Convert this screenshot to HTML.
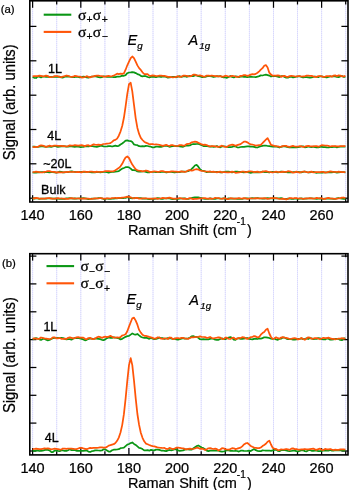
<!DOCTYPE html>
<html><head><meta charset="utf-8"><title>Raman spectra</title>
<style>
html,body{margin:0;padding:0;background:#fff;}
svg{display:block;}
text{font-family:"Liberation Sans",Arial,sans-serif;fill:#000;stroke:#000;stroke-width:0.22px;}
.a{font-size:14.5px;}
.s{font-size:10px;font-family:"Liberation Sans",Arial,sans-serif;}
.l11{font-size:11.4px;}
.l12{font-size:12.5px;stroke-width:0.32px;}
.i{font-size:14.5px;font-style:italic;}
.si{font-size:9.8px;font-style:italic;}
.sg{font-size:15.4px;font-family:"Liberation Serif","DejaVu Serif",serif;stroke-width:0.3px;}
.ss{font-size:10.4px;font-family:"Liberation Sans",Arial,sans-serif;stroke-width:0.2px;}
.g0{stroke:#e9e9ff;stroke-width:1;}
.g{stroke:#d6d6fc;stroke-width:0.9;stroke-dasharray:1 1;}
.t{stroke:#000;stroke-width:1.25;}
</style></head>
<body>
<svg width="349" height="490" viewBox="0 0 349 490">
<rect width="349" height="490" fill="#fff"/>
<line x1="32.6" y1="0.8" x2="32.6" y2="202.1" class="g0"/>
<line x1="32.6" y1="1.0" x2="32.6" y2="202.1" class="g"/>
<line x1="56.7" y1="0.8" x2="56.7" y2="202.1" class="g0"/>
<line x1="56.7" y1="1.0" x2="56.7" y2="202.1" class="g"/>
<line x1="80.8" y1="0.8" x2="80.8" y2="202.1" class="g0"/>
<line x1="80.8" y1="1.0" x2="80.8" y2="202.1" class="g"/>
<line x1="104.9" y1="0.8" x2="104.9" y2="202.1" class="g0"/>
<line x1="104.9" y1="1.0" x2="104.9" y2="202.1" class="g"/>
<line x1="128.9" y1="0.8" x2="128.9" y2="202.1" class="g0"/>
<line x1="128.9" y1="1.0" x2="128.9" y2="202.1" class="g"/>
<line x1="153.0" y1="0.8" x2="153.0" y2="202.1" class="g0"/>
<line x1="153.0" y1="1.0" x2="153.0" y2="202.1" class="g"/>
<line x1="177.1" y1="0.8" x2="177.1" y2="202.1" class="g0"/>
<line x1="177.1" y1="1.0" x2="177.1" y2="202.1" class="g"/>
<line x1="201.2" y1="0.8" x2="201.2" y2="202.1" class="g0"/>
<line x1="201.2" y1="1.0" x2="201.2" y2="202.1" class="g"/>
<line x1="225.3" y1="0.8" x2="225.3" y2="202.1" class="g0"/>
<line x1="225.3" y1="1.0" x2="225.3" y2="202.1" class="g"/>
<line x1="249.4" y1="0.8" x2="249.4" y2="202.1" class="g0"/>
<line x1="249.4" y1="1.0" x2="249.4" y2="202.1" class="g"/>
<line x1="273.5" y1="0.8" x2="273.5" y2="202.1" class="g0"/>
<line x1="273.5" y1="1.0" x2="273.5" y2="202.1" class="g"/>
<line x1="297.5" y1="0.8" x2="297.5" y2="202.1" class="g0"/>
<line x1="297.5" y1="1.0" x2="297.5" y2="202.1" class="g"/>
<line x1="321.6" y1="0.8" x2="321.6" y2="202.1" class="g0"/>
<line x1="321.6" y1="1.0" x2="321.6" y2="202.1" class="g"/>
<line x1="345.7" y1="0.8" x2="345.7" y2="202.1" class="g0"/>
<line x1="345.7" y1="1.0" x2="345.7" y2="202.1" class="g"/>
<line x1="32.6" y1="0.8" x2="32.6" y2="7.8" class="t"/>
<line x1="32.6" y1="202.1" x2="32.6" y2="195.2" class="t"/>
<line x1="56.7" y1="0.8" x2="56.7" y2="4.5" class="t"/>
<line x1="56.7" y1="202.1" x2="56.7" y2="198.5" class="t"/>
<line x1="80.8" y1="0.8" x2="80.8" y2="7.8" class="t"/>
<line x1="80.8" y1="202.1" x2="80.8" y2="195.2" class="t"/>
<line x1="104.9" y1="0.8" x2="104.9" y2="4.5" class="t"/>
<line x1="104.9" y1="202.1" x2="104.9" y2="198.5" class="t"/>
<line x1="128.9" y1="0.8" x2="128.9" y2="7.8" class="t"/>
<line x1="128.9" y1="202.1" x2="128.9" y2="195.2" class="t"/>
<line x1="153.0" y1="0.8" x2="153.0" y2="4.5" class="t"/>
<line x1="153.0" y1="202.1" x2="153.0" y2="198.5" class="t"/>
<line x1="177.1" y1="0.8" x2="177.1" y2="7.8" class="t"/>
<line x1="177.1" y1="202.1" x2="177.1" y2="195.2" class="t"/>
<line x1="201.2" y1="0.8" x2="201.2" y2="4.5" class="t"/>
<line x1="201.2" y1="202.1" x2="201.2" y2="198.5" class="t"/>
<line x1="225.3" y1="0.8" x2="225.3" y2="7.8" class="t"/>
<line x1="225.3" y1="202.1" x2="225.3" y2="195.2" class="t"/>
<line x1="249.4" y1="0.8" x2="249.4" y2="4.5" class="t"/>
<line x1="249.4" y1="202.1" x2="249.4" y2="198.5" class="t"/>
<line x1="273.5" y1="0.8" x2="273.5" y2="7.8" class="t"/>
<line x1="273.5" y1="202.1" x2="273.5" y2="195.2" class="t"/>
<line x1="297.5" y1="0.8" x2="297.5" y2="4.5" class="t"/>
<line x1="297.5" y1="202.1" x2="297.5" y2="198.5" class="t"/>
<line x1="321.6" y1="0.8" x2="321.6" y2="7.8" class="t"/>
<line x1="321.6" y1="202.1" x2="321.6" y2="195.2" class="t"/>
<line x1="345.7" y1="0.8" x2="345.7" y2="4.5" class="t"/>
<line x1="345.7" y1="202.1" x2="345.7" y2="198.5" class="t"/>
<line x1="29.8" y1="26.4" x2="36.4" y2="26.4" class="t"/>
<line x1="348.0" y1="26.4" x2="341.4" y2="26.4" class="t"/>
<line x1="29.8" y1="60.8" x2="36.4" y2="60.8" class="t"/>
<line x1="348.0" y1="60.8" x2="341.4" y2="60.8" class="t"/>
<line x1="29.8" y1="95.2" x2="36.4" y2="95.2" class="t"/>
<line x1="348.0" y1="95.2" x2="341.4" y2="95.2" class="t"/>
<line x1="29.8" y1="129.5" x2="36.4" y2="129.5" class="t"/>
<line x1="348.0" y1="129.5" x2="341.4" y2="129.5" class="t"/>
<line x1="29.8" y1="163.8" x2="36.4" y2="163.8" class="t"/>
<line x1="348.0" y1="163.8" x2="341.4" y2="163.8" class="t"/>
<line x1="29.8" y1="198.2" x2="36.4" y2="198.2" class="t"/>
<line x1="348.0" y1="198.2" x2="341.4" y2="198.2" class="t"/>
<polyline points="32.6,198.5 34.3,198.6 36.0,198.3 37.7,198.5 39.3,198.9 41.0,198.6 42.7,198.5 44.4,198.7 46.1,198.6 47.8,198.5 49.5,198.3 51.2,198.4 52.9,198.7 54.6,198.7 56.3,198.4 57.9,198.6 59.6,198.9 61.3,198.6 63.0,198.9 64.7,198.9 66.4,198.3 68.1,198.3 69.8,198.1 71.5,198.4 73.2,198.7 74.9,198.4 76.5,198.6 78.2,198.5 79.9,198.4 81.6,198.3 83.3,198.1 85.0,198.3 86.7,198.6 88.4,199.2 90.1,198.8 91.8,198.7 93.5,198.7 95.1,198.6 96.8,198.5 98.5,198.1 100.2,198.0 101.9,198.3 103.6,199.0 105.3,199.0 107.0,198.5 108.7,198.8 110.4,198.9 112.1,198.6 113.7,198.6 115.4,198.5 117.1,198.3 118.8,198.0 120.5,198.0 122.2,198.0 123.9,198.0 125.6,197.8 127.3,197.2 129.0,197.3 130.7,198.1 132.3,198.3 134.0,198.0 135.7,197.9 137.4,198.0 139.1,198.2 140.8,198.2 142.5,198.6 144.2,198.7 145.9,198.5 147.6,198.8 149.3,199.1 150.9,198.8 152.6,198.6 154.3,198.8 156.0,198.7 157.7,198.2 159.4,198.4 161.1,198.8 162.8,198.8 164.5,198.5 166.2,198.4 167.9,198.4 169.5,198.4 171.2,198.8 172.9,199.1 174.6,199.0 176.3,198.8 178.0,198.8 179.7,198.7 181.4,198.5 183.1,198.4 184.8,198.4 186.5,198.9 188.1,199.0 189.8,198.5 191.5,198.0 193.2,197.6 194.9,197.4 196.6,197.4 198.3,197.4 200.0,197.8 201.7,198.2 203.4,198.6 205.0,198.8 206.7,198.8 208.4,198.8 210.1,198.4 211.8,198.6 213.5,198.8 215.2,198.9 216.9,198.5 218.6,198.4 220.3,198.6 222.0,198.5 223.6,198.4 225.3,198.8 227.0,198.8 228.7,198.4 230.4,198.6 232.1,198.7 233.8,198.6 235.5,198.7 237.2,198.8 238.9,198.7 240.6,198.8 242.2,198.8 243.9,198.5 245.6,198.4 247.3,198.4 249.0,198.5 250.7,198.4 252.4,198.1 254.1,198.3 255.8,198.4 257.5,198.0 259.2,198.3 260.8,198.5 262.5,198.6 264.2,198.6 265.9,198.3 267.6,198.2 269.3,198.3 271.0,198.5 272.7,198.4 274.4,198.4 276.1,198.3 277.8,198.3 279.4,198.3 281.1,198.2 282.8,198.7 284.5,198.9 286.2,199.1 287.9,198.6 289.6,198.5 291.3,198.9 293.0,199.0 294.7,198.6 296.4,198.5 298.0,199.0 299.7,198.7 301.4,198.4 303.1,198.9 304.8,198.7 306.5,198.6 308.2,198.5 309.9,198.3 311.6,198.3 313.3,198.5 315.0,198.6 316.6,198.8 318.3,198.6 320.0,198.4 321.7,198.7 323.4,198.9 325.1,198.5 326.8,198.5 328.5,198.6 330.2,198.6 331.9,198.7 333.6,198.9 335.2,198.8 336.9,198.3 338.6,198.0 340.3,198.5 342.0,198.7 343.7,198.8 345.4,198.8" fill="none" stroke="#0a9614" stroke-width="1.75" stroke-linejoin="round" stroke-linecap="butt"/>
<polyline points="32.6,198.4 34.3,198.4 36.0,197.9 37.7,198.1 39.3,198.6 41.0,198.7 42.7,198.7 44.4,198.6 46.1,198.4 47.8,198.2 49.5,198.2 51.2,198.6 52.9,198.6 54.6,198.5 56.3,198.5 57.9,198.2 59.6,198.4 61.3,198.5 63.0,198.6 64.7,198.7 66.4,198.9 68.1,198.8 69.8,198.4 71.5,198.2 73.2,198.3 74.9,198.6 76.5,198.5 78.2,198.3 79.9,198.6 81.6,198.6 83.3,198.3 85.0,198.6 86.7,198.7 88.4,198.6 90.1,198.8 91.8,199.0 93.5,198.6 95.1,198.3 96.8,198.4 98.5,198.5 100.2,198.0 101.9,198.3 103.6,198.7 105.3,198.6 107.0,198.3 108.7,198.4 110.4,198.5 112.1,198.2 113.7,198.0 115.4,197.9 117.1,198.1 118.8,197.9 120.5,197.8 122.2,197.6 123.9,197.4 125.6,197.1 127.3,196.6 129.0,196.8 130.7,197.4 132.3,198.0 134.0,198.3 135.7,197.8 137.4,197.9 139.1,198.7 140.8,198.7 142.5,198.3 144.2,198.4 145.9,198.4 147.6,198.5 149.3,198.6 150.9,198.7 152.6,198.9 154.3,198.4 156.0,198.4 157.7,198.8 159.4,198.5 161.1,198.3 162.8,197.9 164.5,198.2 166.2,198.5 167.9,197.9 169.5,197.7 171.2,198.1 172.9,198.6 174.6,198.6 176.3,198.6 178.0,198.4 179.7,198.0 181.4,198.4 183.1,198.8 184.8,198.6 186.5,198.8 188.1,198.6 189.8,198.2 191.5,198.6 193.2,199.1 194.9,198.9 196.6,198.9 198.3,198.7 200.0,198.4 201.7,198.5 203.4,198.1 205.0,198.2 206.7,198.7 208.4,198.7 210.1,198.4 211.8,198.8 213.5,198.5 215.2,197.9 216.9,198.0 218.6,198.1 220.3,198.5 222.0,198.8 223.6,198.4 225.3,198.2 227.0,199.0 228.7,199.0 230.4,198.2 232.1,198.4 233.8,198.7 235.5,198.7 237.2,198.4 238.9,198.1 240.6,198.4 242.2,198.6 243.9,198.1 245.6,198.4 247.3,198.9 249.0,198.6 250.7,198.4 252.4,198.5 254.1,198.4 255.8,198.1 257.5,198.3 259.2,198.3 260.8,198.3 262.5,198.3 264.2,198.2 265.9,198.4 267.6,198.8 269.3,198.7 271.0,198.0 272.7,198.1 274.4,198.1 276.1,198.1 277.8,198.5 279.4,198.8 281.1,199.0 282.8,198.7 284.5,198.9 286.2,199.5 287.9,198.9 289.6,198.0 291.3,198.0 293.0,198.5 294.7,198.0 296.4,198.0 298.0,198.5 299.7,198.3 301.4,198.5 303.1,198.8 304.8,198.6 306.5,198.4 308.2,198.4 309.9,198.2 311.6,198.3 313.3,198.6 315.0,198.5 316.6,197.9 318.3,198.2 320.0,198.3 321.7,198.2 323.4,198.9 325.1,198.9 326.8,198.2 328.5,197.9 330.2,198.4 331.9,198.7 333.6,198.6 335.2,198.8 336.9,198.7 338.6,198.4 340.3,198.2 342.0,197.6 343.7,197.5 345.4,198.2" fill="none" stroke="#ff5508" stroke-width="1.75" stroke-linejoin="round" stroke-linecap="butt"/>
<polyline points="32.6,172.3 34.3,172.6 36.0,172.7 37.7,172.4 39.3,172.3 41.0,172.0 42.7,172.0 44.4,172.3 46.1,171.9 47.8,172.1 49.5,172.3 51.2,172.2 52.9,172.2 54.6,172.3 56.3,172.7 57.9,172.3 59.6,171.7 61.3,171.8 63.0,172.3 64.7,172.3 66.4,172.0 68.1,172.1 69.8,171.7 71.5,171.4 73.2,171.7 74.9,171.9 76.5,172.1 78.2,171.8 79.9,171.8 81.6,171.8 83.3,171.8 85.0,172.0 86.7,171.9 88.4,171.9 90.1,172.2 91.8,172.3 93.5,172.2 95.1,172.3 96.8,172.0 98.5,172.0 100.2,172.3 101.9,172.2 103.6,172.0 105.3,171.8 107.0,172.1 108.7,172.6 110.4,172.2 112.1,171.8 113.7,171.8 115.4,171.7 117.1,171.5 118.8,171.1 120.5,169.8 122.2,168.6 123.9,168.0 125.6,167.2 127.3,167.0 129.0,167.4 130.7,168.6 132.3,170.1 134.0,170.2 135.7,170.3 137.4,171.4 139.1,171.7 140.8,171.7 142.5,171.5 144.2,171.4 145.9,171.9 147.6,172.4 149.3,172.3 150.9,171.9 152.6,171.9 154.3,172.0 156.0,172.1 157.7,172.2 159.4,172.0 161.1,172.0 162.8,171.9 164.5,172.0 166.2,172.5 167.9,172.1 169.5,171.9 171.2,171.9 172.9,172.1 174.6,172.5 176.3,172.2 178.0,172.2 179.7,172.1 181.4,171.7 183.1,171.6 184.8,171.6 186.5,171.5 188.1,171.1 189.8,170.3 191.5,169.1 193.2,167.5 194.9,165.5 196.6,164.8 198.3,166.7 200.0,169.2 201.7,170.5 203.4,170.8 205.0,171.3 206.7,172.1 208.4,171.8 210.1,171.6 211.8,172.0 213.5,171.8 215.2,172.0 216.9,171.9 218.6,171.9 220.3,172.4 222.0,172.4 223.6,172.0 225.3,171.6 227.0,171.5 228.7,171.5 230.4,172.1 232.1,172.4 233.8,171.9 235.5,171.7 237.2,171.7 238.9,171.9 240.6,171.8 242.2,172.2 243.9,172.4 245.6,171.8 247.3,172.1 249.0,172.5 250.7,172.8 252.4,172.4 254.1,172.1 255.8,172.3 257.5,172.3 259.2,172.3 260.8,172.0 262.5,171.7 264.2,172.0 265.9,172.0 267.6,172.2 269.3,172.5 271.0,172.0 272.7,171.9 274.4,172.0 276.1,172.1 277.8,172.4 279.4,172.1 281.1,171.5 282.8,171.9 284.5,172.2 286.2,172.2 287.9,172.3 289.6,172.2 291.3,172.3 293.0,172.2 294.7,172.0 296.4,172.0 298.0,171.8 299.7,172.1 301.4,172.4 303.1,171.9 304.8,171.5 306.5,172.0 308.2,172.5 309.9,172.3 311.6,172.0 313.3,171.9 315.0,172.4 316.6,172.8 318.3,172.5 320.0,172.5 321.7,172.5 323.4,172.5 325.1,172.3 326.8,172.3 328.5,172.4 330.2,172.5 331.9,172.3 333.6,171.9 335.2,172.2 336.9,172.6 338.6,172.5 340.3,172.1 342.0,172.0 343.7,172.1 345.4,172.5" fill="none" stroke="#0a9614" stroke-width="1.75" stroke-linejoin="round" stroke-linecap="butt"/>
<polyline points="32.6,172.1 34.3,172.0 36.0,171.6 37.7,171.9 39.3,172.2 41.0,172.5 42.7,172.4 44.4,171.9 46.1,171.7 47.8,171.2 49.5,171.1 51.2,171.6 52.9,171.8 54.6,171.9 56.3,172.6 57.9,172.2 59.6,172.3 61.3,172.4 63.0,172.3 64.7,172.2 66.4,172.1 68.1,171.9 69.8,171.8 71.5,172.0 73.2,171.8 74.9,172.0 76.5,172.1 78.2,171.9 79.9,172.1 81.6,172.3 83.3,171.7 85.0,171.7 86.7,172.2 88.4,171.8 90.1,171.7 91.8,171.6 93.5,171.8 95.1,172.1 96.8,171.7 98.5,172.0 100.2,171.9 101.9,171.8 103.6,171.5 105.3,171.1 107.0,171.0 108.7,171.0 110.4,171.4 112.1,171.4 113.7,171.1 115.4,170.3 117.1,169.1 118.8,168.0 120.5,166.3 122.2,163.8 123.9,160.3 125.6,157.5 127.3,156.5 129.0,158.0 130.7,161.5 132.3,164.6 134.0,166.9 135.7,169.2 137.4,170.3 139.1,170.7 140.8,170.9 142.5,171.4 144.2,171.2 145.9,170.5 147.6,170.9 149.3,171.7 150.9,172.1 152.6,171.7 154.3,171.3 156.0,171.5 157.7,171.9 159.4,171.6 161.1,171.2 162.8,171.2 164.5,171.6 166.2,171.9 167.9,171.9 169.5,171.8 171.2,171.4 172.9,171.4 174.6,171.6 176.3,171.6 178.0,171.9 179.7,171.7 181.4,171.4 183.1,171.7 184.8,172.0 186.5,171.5 188.1,170.4 189.8,170.2 191.5,170.6 193.2,170.3 194.9,169.5 196.6,169.1 198.3,169.6 200.0,170.5 201.7,170.9 203.4,171.0 205.0,171.3 206.7,171.5 208.4,171.5 210.1,171.5 211.8,171.8 213.5,171.7 215.2,172.0 216.9,172.3 218.6,171.8 220.3,171.7 222.0,172.3 223.6,172.0 225.3,172.2 227.0,172.3 228.7,172.3 230.4,172.1 232.1,171.6 233.8,172.0 235.5,172.8 237.2,172.7 238.9,172.3 240.6,172.1 242.2,171.5 243.9,171.6 245.6,172.3 247.3,171.9 249.0,171.4 250.7,171.4 252.4,171.5 254.1,172.2 255.8,171.9 257.5,171.6 259.2,172.2 260.8,172.3 262.5,171.7 264.2,171.3 265.9,171.2 267.6,171.7 269.3,172.0 271.0,172.1 272.7,172.5 274.4,172.0 276.1,171.7 277.8,172.0 279.4,172.2 281.1,172.1 282.8,171.6 284.5,171.8 286.2,172.0 287.9,171.2 289.6,171.3 291.3,171.9 293.0,172.6 294.7,172.4 296.4,171.6 298.0,172.2 299.7,172.6 301.4,172.0 303.1,171.7 304.8,171.5 306.5,172.1 308.2,172.3 309.9,171.8 311.6,171.7 313.3,172.3 315.0,172.2 316.6,172.0 318.3,172.2 320.0,172.1 321.7,171.8 323.4,171.9 325.1,172.6 326.8,172.4 328.5,171.8 330.2,171.4 331.9,171.7 333.6,172.0 335.2,171.9 336.9,172.0 338.6,171.6 340.3,171.8 342.0,172.2 343.7,172.0 345.4,172.0" fill="none" stroke="#ff5508" stroke-width="1.75" stroke-linejoin="round" stroke-linecap="butt"/>
<polyline points="32.6,146.6 34.3,146.7 36.0,146.9 37.7,147.0 39.3,146.6 41.0,146.4 42.7,146.4 44.4,146.6 46.1,146.8 47.8,146.5 49.5,146.7 51.2,146.9 52.9,146.5 54.6,146.0 56.3,146.3 57.9,146.8 59.6,146.7 61.3,146.5 63.0,146.2 64.7,146.3 66.4,146.6 68.1,146.6 69.8,146.5 71.5,146.4 73.2,146.6 74.9,146.8 76.5,146.4 78.2,146.6 79.9,147.0 81.6,147.0 83.3,146.8 85.0,146.5 86.7,146.2 88.4,146.5 90.1,146.2 91.8,145.9 93.5,146.4 95.1,146.7 96.8,146.8 98.5,146.3 100.2,145.8 101.9,145.9 103.6,146.3 105.3,146.5 107.0,146.4 108.7,146.1 110.4,146.1 112.1,146.5 113.7,146.1 115.4,145.7 117.1,146.1 118.8,145.8 120.5,144.5 122.2,143.5 123.9,142.1 125.6,140.6 127.3,140.4 129.0,141.0 130.7,141.1 132.3,142.1 134.0,144.4 135.7,145.0 137.4,145.2 139.1,146.2 140.8,146.3 142.5,146.2 144.2,146.4 145.9,145.8 147.6,146.0 149.3,146.5 150.9,146.7 152.6,147.4 154.3,147.3 156.0,146.6 157.7,146.6 159.4,146.8 161.1,146.9 162.8,146.5 164.5,145.8 166.2,145.7 167.9,146.2 169.5,146.8 171.2,146.4 172.9,146.2 174.6,146.2 176.3,146.1 178.0,146.2 179.7,146.3 181.4,146.7 183.1,146.8 184.8,146.0 186.5,145.5 188.1,145.6 189.8,145.4 191.5,144.5 193.2,144.0 194.9,144.2 196.6,144.0 198.3,143.9 200.0,144.4 201.7,145.3 203.4,146.0 205.0,146.0 206.7,146.0 208.4,146.5 210.1,146.7 211.8,146.4 213.5,146.8 215.2,146.7 216.9,146.0 218.6,147.0 220.3,147.3 222.0,146.4 223.6,146.3 225.3,146.5 227.0,146.9 228.7,147.2 230.4,147.1 232.1,146.8 233.8,146.2 235.5,146.4 237.2,147.3 238.9,147.5 240.6,147.0 242.2,146.9 243.9,146.9 245.6,146.6 247.3,146.4 249.0,146.3 250.7,146.7 252.4,146.7 254.1,146.9 255.8,147.4 257.5,147.5 259.2,146.8 260.8,146.1 262.5,145.8 264.2,145.5 265.9,145.5 267.6,146.0 269.3,146.2 271.0,146.4 272.7,146.6 274.4,146.6 276.1,146.4 277.8,147.0 279.4,147.5 281.1,146.8 282.8,146.3 284.5,146.4 286.2,146.6 287.9,147.2 289.6,147.5 291.3,147.4 293.0,147.4 294.7,147.4 296.4,147.4 298.0,147.2 299.7,146.9 301.4,146.3 303.1,146.3 304.8,147.3 306.5,147.2 308.2,146.5 309.9,147.0 311.6,147.2 313.3,146.7 315.0,147.2 316.6,147.5 318.3,147.3 320.0,146.9 321.7,146.8 323.4,147.1 325.1,147.2 326.8,147.4 328.5,147.5 330.2,147.2 331.9,147.1 333.6,146.8 335.2,146.7 336.9,147.3 338.6,147.0 340.3,146.6 342.0,146.7 343.7,146.5 345.4,146.6" fill="none" stroke="#0a9614" stroke-width="1.75" stroke-linejoin="round" stroke-linecap="butt"/>
<polyline points="32.6,146.9 34.3,147.2 36.0,146.9 37.7,146.9 39.3,145.9 41.0,145.4 42.7,145.7 44.4,146.2 46.1,146.9 47.8,146.3 49.5,145.7 51.2,146.1 52.9,145.9 54.6,145.5 56.3,145.5 57.9,145.9 59.6,145.9 61.3,145.9 63.0,146.2 64.7,146.1 66.4,146.5 68.1,146.1 69.8,145.3 71.5,145.6 73.2,145.5 74.9,145.2 76.5,145.4 78.2,145.7 79.9,145.3 81.6,145.1 83.3,145.6 85.0,146.1 86.7,145.3 88.4,145.2 90.1,146.0 91.8,145.2 93.5,144.4 95.1,144.7 96.8,144.9 98.5,144.7 100.2,144.9 101.9,144.5 103.6,144.0 105.3,143.9 107.0,143.7 108.7,143.5 110.4,143.1 112.1,141.9 113.7,140.3 115.4,139.9 117.1,138.6 118.8,135.7 120.5,131.6 122.2,126.0 123.9,117.8 125.6,106.4 127.3,93.9 129.0,84.2 130.7,82.8 132.3,91.3 134.0,104.8 135.7,118.3 137.4,127.9 139.1,133.9 140.8,137.9 142.5,140.0 144.2,141.7 145.9,142.7 147.6,143.3 149.3,144.3 150.9,144.1 152.6,144.0 154.3,144.5 156.0,144.3 157.7,144.5 159.4,144.9 161.1,145.3 162.8,145.8 164.5,145.3 166.2,144.9 167.9,145.5 169.5,146.0 171.2,145.1 172.9,145.2 174.6,145.9 176.3,146.0 178.0,145.9 179.7,145.1 181.4,145.2 183.1,145.7 184.8,145.5 186.5,144.1 188.1,143.8 189.8,143.5 191.5,142.4 193.2,142.0 194.9,141.6 196.6,141.9 198.3,142.7 200.0,143.5 201.7,144.4 203.4,144.9 205.0,144.7 206.7,145.0 208.4,145.9 210.1,146.3 211.8,146.1 213.5,146.1 215.2,146.3 216.9,146.6 218.6,146.9 220.3,146.3 222.0,145.7 223.6,146.3 225.3,146.8 227.0,146.9 228.7,145.6 230.4,145.0 232.1,144.7 233.8,144.9 235.5,145.8 237.2,145.2 238.9,144.6 240.6,144.1 242.2,142.9 243.9,141.7 245.6,141.7 247.3,142.3 249.0,143.5 250.7,144.4 252.4,144.5 254.1,145.0 255.8,145.7 257.5,145.4 259.2,145.1 260.8,144.9 262.5,143.2 264.2,141.3 265.9,139.7 267.6,138.1 269.3,141.3 271.0,144.9 272.7,145.3 274.4,145.9 276.1,146.2 277.8,146.3 279.4,146.9 281.1,146.7 282.8,146.1 284.5,145.8 286.2,145.9 287.9,146.7 289.6,146.9 291.3,146.4 293.0,145.9 294.7,146.5 296.4,146.6 298.0,146.5 299.7,146.2 301.4,146.3 303.1,147.0 304.8,146.7 306.5,146.1 308.2,145.9 309.9,146.2 311.6,146.4 313.3,146.3 315.0,146.1 316.6,146.2 318.3,146.7 320.0,146.0 321.7,145.2 323.4,145.3 325.1,145.5 326.8,145.5 328.5,145.9 330.2,146.5 331.9,146.2 333.6,146.0 335.2,146.1 336.9,146.4 338.6,146.4 340.3,146.1 342.0,146.2 343.7,146.0 345.4,146.2" fill="none" stroke="#ff5508" stroke-width="1.75" stroke-linejoin="round" stroke-linecap="butt"/>
<polyline points="32.6,77.1 34.3,77.8 36.0,78.0 37.7,76.6 39.3,76.7 41.0,77.4 42.7,76.5 44.4,76.7 46.1,76.8 47.8,76.7 49.5,77.1 51.2,76.8 52.9,77.0 54.6,76.9 56.3,76.7 57.9,76.9 59.6,76.7 61.3,77.5 63.0,77.6 64.7,76.7 66.4,76.6 68.1,76.7 69.8,76.7 71.5,77.0 73.2,77.0 74.9,77.0 76.5,76.8 78.2,76.9 79.9,77.4 81.6,77.1 83.3,76.7 85.0,76.9 86.7,77.3 88.4,77.7 90.1,77.0 91.8,76.7 93.5,76.5 95.1,76.1 96.8,76.6 98.5,77.1 100.2,77.4 101.9,77.1 103.6,76.3 105.3,76.5 107.0,76.9 108.7,76.9 110.4,76.9 112.1,77.0 113.7,77.1 115.4,77.1 117.1,76.6 118.8,76.6 120.5,76.3 122.2,75.7 123.9,75.8 125.6,75.1 127.3,73.2 129.0,72.5 130.7,72.4 132.3,72.1 134.0,72.4 135.7,73.1 137.4,74.1 139.1,74.6 140.8,75.8 142.5,76.4 144.2,76.0 145.9,76.2 147.6,77.0 149.3,77.5 150.9,76.9 152.6,76.6 154.3,76.9 156.0,77.2 157.7,76.6 159.4,76.6 161.1,77.0 162.8,76.5 164.5,76.5 166.2,77.0 167.9,77.7 169.5,77.5 171.2,77.1 172.9,76.8 174.6,76.8 176.3,77.3 178.0,76.6 179.7,76.2 181.4,76.9 183.1,76.5 184.8,76.1 186.5,76.8 188.1,76.3 189.8,75.8 191.5,76.1 193.2,76.1 194.9,75.4 196.6,75.4 198.3,76.1 200.0,76.4 201.7,77.0 203.4,77.0 205.0,76.9 206.7,76.3 208.4,75.8 210.1,76.1 211.8,76.4 213.5,77.0 215.2,76.6 216.9,76.2 218.6,76.4 220.3,76.0 222.0,76.9 223.6,77.4 225.3,77.4 227.0,77.8 228.7,77.0 230.4,76.0 232.1,77.0 233.8,77.4 235.5,76.4 237.2,76.7 238.9,77.1 240.6,76.7 242.2,76.5 243.9,76.8 245.6,76.9 247.3,77.1 249.0,77.0 250.7,76.6 252.4,76.9 254.1,77.0 255.8,77.1 257.5,76.7 259.2,76.1 260.8,75.4 262.5,75.5 264.2,75.0 265.9,74.6 267.6,75.1 269.3,75.6 271.0,76.5 272.7,76.1 274.4,76.0 276.1,76.1 277.8,76.7 279.4,77.1 281.1,76.2 282.8,76.1 284.5,77.0 286.2,77.7 287.9,77.7 289.6,77.0 291.3,76.6 293.0,77.4 294.7,77.2 296.4,76.5 298.0,76.5 299.7,76.2 301.4,76.9 303.1,77.5 304.8,77.2 306.5,77.2 308.2,77.4 309.9,77.7 311.6,77.4 313.3,76.8 315.0,76.5 316.6,76.9 318.3,77.1 320.0,76.3 321.7,76.3 323.4,76.8 325.1,77.2 326.8,77.5 328.5,77.0 330.2,76.4 331.9,76.5 333.6,76.4 335.2,76.5 336.9,77.0 338.6,77.1 340.3,76.4 342.0,76.0 343.7,76.9 345.4,77.0" fill="none" stroke="#0a9614" stroke-width="1.75" stroke-linejoin="round" stroke-linecap="butt"/>
<polyline points="32.6,76.4 34.3,76.0 36.0,76.0 37.7,76.2 39.3,75.7 41.0,75.8 42.7,76.3 44.4,76.2 46.1,75.6 47.8,76.1 49.5,77.0 51.2,77.0 52.9,76.8 54.6,76.2 56.3,76.1 57.9,76.2 59.6,76.9 61.3,77.1 63.0,76.5 64.7,76.1 66.4,75.5 68.1,75.8 69.8,76.5 71.5,76.9 73.2,76.7 74.9,75.9 76.5,76.1 78.2,76.5 79.9,76.6 81.6,77.6 83.3,77.3 85.0,77.0 86.7,76.2 88.4,76.8 90.1,77.3 91.8,76.7 93.5,76.3 95.1,75.9 96.8,75.7 98.5,75.6 100.2,76.0 101.9,76.1 103.6,76.6 105.3,76.6 107.0,76.1 108.7,75.8 110.4,76.3 112.1,76.0 113.7,75.5 115.4,74.7 117.1,73.7 118.8,74.1 120.5,73.7 122.2,73.8 123.9,73.4 125.6,69.7 127.3,65.3 129.0,61.7 130.7,58.2 132.3,56.5 134.0,58.1 135.7,61.7 137.4,65.4 139.1,68.1 140.8,69.9 142.5,72.3 144.2,74.0 145.9,74.0 147.6,74.2 149.3,75.6 150.9,75.8 152.6,75.3 154.3,75.6 156.0,76.1 157.7,76.0 159.4,75.7 161.1,75.6 162.8,75.8 164.5,75.8 166.2,76.3 167.9,76.8 169.5,76.8 171.2,77.2 172.9,77.4 174.6,77.2 176.3,76.8 178.0,76.2 179.7,76.9 181.4,76.7 183.1,75.7 184.8,75.6 186.5,75.9 188.1,76.2 189.8,76.4 191.5,75.9 193.2,74.6 194.9,74.6 196.6,75.4 198.3,75.5 200.0,75.4 201.7,75.8 203.4,76.6 205.0,76.5 206.7,75.6 208.4,75.5 210.1,75.9 211.8,75.5 213.5,75.8 215.2,76.2 216.9,76.1 218.6,76.4 220.3,76.2 222.0,76.7 223.6,76.6 225.3,75.7 227.0,76.0 228.7,76.5 230.4,76.4 232.1,75.8 233.8,76.0 235.5,76.5 237.2,77.0 238.9,76.6 240.6,75.9 242.2,75.8 243.9,75.1 245.6,75.2 247.3,75.9 249.0,75.4 250.7,74.6 252.4,74.2 254.1,74.4 255.8,73.9 257.5,72.7 259.2,71.4 260.8,69.7 262.5,68.2 264.2,65.8 265.9,65.1 267.6,67.4 269.3,72.7 271.0,74.6 272.7,75.7 274.4,75.5 276.1,75.7 277.8,75.4 279.4,75.6 281.1,76.8 282.8,76.2 284.5,75.8 286.2,76.8 287.9,76.8 289.6,76.2 291.3,75.8 293.0,76.0 294.7,76.3 296.4,76.5 298.0,76.0 299.7,76.2 301.4,76.5 303.1,76.4 304.8,76.3 306.5,75.6 308.2,75.7 309.9,75.8 311.6,75.8 313.3,76.4 315.0,76.9 316.6,76.8 318.3,76.2 320.0,76.0 321.7,76.4 323.4,76.9 325.1,76.6 326.8,76.1 328.5,76.0 330.2,76.1 331.9,76.7 333.6,75.6 335.2,75.4 336.9,76.2 338.6,75.3 340.3,75.6 342.0,76.4 343.7,76.4 345.4,75.9" fill="none" stroke="#ff5508" stroke-width="1.75" stroke-linejoin="round" stroke-linecap="butt"/>
<rect x="29.8" y="0.8" width="318.2" height="201.2" fill="none" stroke="#000" stroke-width="1.6"/>
<text x="32.6" y="219.7" class="a" text-anchor="middle">140</text>
<text x="80.8" y="219.7" class="a" text-anchor="middle">160</text>
<text x="128.9" y="219.7" class="a" text-anchor="middle">180</text>
<text x="177.1" y="219.7" class="a" text-anchor="middle">200</text>
<text x="225.3" y="219.7" class="a" text-anchor="middle">220</text>
<text x="273.5" y="219.7" class="a" text-anchor="middle">240</text>
<text x="321.6" y="219.7" class="a" text-anchor="middle">260</text>
<text x="127.9" y="235.1" class="a" style="word-spacing:0.5px">Raman Shift</text>
<text x="212.7" y="235.1" class="a">(cm</text>
<text x="236.8" y="224.9" class="s">-1</text>
<text x="247.1" y="235.1" class="a">)</text>
<text transform="translate(14.6,102.3) rotate(-90) scale(1,1.06)" class="a" style="font-size:14.8px" text-anchor="middle">Signal (arb. units)</text>
<text x="0.7" y="13.0" class="l11">(a)</text>
<line x1="43.7" y1="14.7" x2="71.3" y2="14.7" stroke="#0a9614" stroke-width="2.1"/>
<line x1="43.7" y1="31.9" x2="71.3" y2="31.9" stroke="#ff5508" stroke-width="2.1"/>
<text y="19.6" class="sg"><tspan x="78.1">σ</tspan><tspan class="ss" dy="3.6" x="86.4">+</tspan><tspan dy="-3.6" x="92.8">σ</tspan><tspan class="ss" dy="3.6" x="101.7">+</tspan></text>
<text y="36.6" class="sg"><tspan x="78.1">σ</tspan><tspan class="ss" dy="3.6" x="86.4">+</tspan><tspan dy="-3.6" x="92.8">σ</tspan><tspan class="ss" dy="3.6" x="101.7">−</tspan></text>
<text x="127.6" y="45.1" class="i">E<tspan class="si" dy="3.6" dx="-0.1">g</tspan></text>
<text x="188.4" y="45.1" class="i">A<tspan class="si" dy="3.8" dx="1.3">1g</tspan></text>
<text x="48.0" y="73.1" class="l12">1L</text>
<text x="47.3" y="139.8" class="l12">4L</text>
<text x="43.2" y="168.0" class="l12">~20L</text>
<text x="41.1" y="194.3" class="l12">Bulk</text>
<line x1="32.6" y1="253.7" x2="32.6" y2="454.9" class="g0"/>
<line x1="32.6" y1="254.0" x2="32.6" y2="454.9" class="g"/>
<line x1="56.7" y1="253.7" x2="56.7" y2="454.9" class="g0"/>
<line x1="56.7" y1="254.0" x2="56.7" y2="454.9" class="g"/>
<line x1="80.8" y1="253.7" x2="80.8" y2="454.9" class="g0"/>
<line x1="80.8" y1="254.0" x2="80.8" y2="454.9" class="g"/>
<line x1="104.9" y1="253.7" x2="104.9" y2="454.9" class="g0"/>
<line x1="104.9" y1="254.0" x2="104.9" y2="454.9" class="g"/>
<line x1="128.9" y1="253.7" x2="128.9" y2="454.9" class="g0"/>
<line x1="128.9" y1="254.0" x2="128.9" y2="454.9" class="g"/>
<line x1="153.0" y1="253.7" x2="153.0" y2="454.9" class="g0"/>
<line x1="153.0" y1="254.0" x2="153.0" y2="454.9" class="g"/>
<line x1="177.1" y1="253.7" x2="177.1" y2="454.9" class="g0"/>
<line x1="177.1" y1="254.0" x2="177.1" y2="454.9" class="g"/>
<line x1="201.2" y1="253.7" x2="201.2" y2="454.9" class="g0"/>
<line x1="201.2" y1="254.0" x2="201.2" y2="454.9" class="g"/>
<line x1="225.3" y1="253.7" x2="225.3" y2="454.9" class="g0"/>
<line x1="225.3" y1="254.0" x2="225.3" y2="454.9" class="g"/>
<line x1="249.4" y1="253.7" x2="249.4" y2="454.9" class="g0"/>
<line x1="249.4" y1="254.0" x2="249.4" y2="454.9" class="g"/>
<line x1="273.5" y1="253.7" x2="273.5" y2="454.9" class="g0"/>
<line x1="273.5" y1="254.0" x2="273.5" y2="454.9" class="g"/>
<line x1="297.5" y1="253.7" x2="297.5" y2="454.9" class="g0"/>
<line x1="297.5" y1="254.0" x2="297.5" y2="454.9" class="g"/>
<line x1="321.6" y1="253.7" x2="321.6" y2="454.9" class="g0"/>
<line x1="321.6" y1="254.0" x2="321.6" y2="454.9" class="g"/>
<line x1="345.7" y1="253.7" x2="345.7" y2="454.9" class="g0"/>
<line x1="345.7" y1="254.0" x2="345.7" y2="454.9" class="g"/>
<line x1="32.6" y1="253.7" x2="32.6" y2="260.6" class="t"/>
<line x1="32.6" y1="454.9" x2="32.6" y2="448.0" class="t"/>
<line x1="56.7" y1="253.7" x2="56.7" y2="257.2" class="t"/>
<line x1="56.7" y1="454.9" x2="56.7" y2="451.3" class="t"/>
<line x1="80.8" y1="253.7" x2="80.8" y2="260.6" class="t"/>
<line x1="80.8" y1="454.9" x2="80.8" y2="448.0" class="t"/>
<line x1="104.9" y1="253.7" x2="104.9" y2="257.2" class="t"/>
<line x1="104.9" y1="454.9" x2="104.9" y2="451.3" class="t"/>
<line x1="128.9" y1="253.7" x2="128.9" y2="260.6" class="t"/>
<line x1="128.9" y1="454.9" x2="128.9" y2="448.0" class="t"/>
<line x1="153.0" y1="253.7" x2="153.0" y2="257.2" class="t"/>
<line x1="153.0" y1="454.9" x2="153.0" y2="451.3" class="t"/>
<line x1="177.1" y1="253.7" x2="177.1" y2="260.6" class="t"/>
<line x1="177.1" y1="454.9" x2="177.1" y2="448.0" class="t"/>
<line x1="201.2" y1="253.7" x2="201.2" y2="257.2" class="t"/>
<line x1="201.2" y1="454.9" x2="201.2" y2="451.3" class="t"/>
<line x1="225.3" y1="253.7" x2="225.3" y2="260.6" class="t"/>
<line x1="225.3" y1="454.9" x2="225.3" y2="448.0" class="t"/>
<line x1="249.4" y1="253.7" x2="249.4" y2="257.2" class="t"/>
<line x1="249.4" y1="454.9" x2="249.4" y2="451.3" class="t"/>
<line x1="273.5" y1="253.7" x2="273.5" y2="260.6" class="t"/>
<line x1="273.5" y1="454.9" x2="273.5" y2="448.0" class="t"/>
<line x1="297.5" y1="253.7" x2="297.5" y2="257.2" class="t"/>
<line x1="297.5" y1="454.9" x2="297.5" y2="451.3" class="t"/>
<line x1="321.6" y1="253.7" x2="321.6" y2="260.6" class="t"/>
<line x1="321.6" y1="454.9" x2="321.6" y2="448.0" class="t"/>
<line x1="345.7" y1="253.7" x2="345.7" y2="257.2" class="t"/>
<line x1="345.7" y1="454.9" x2="345.7" y2="451.3" class="t"/>
<line x1="29.8" y1="256.1" x2="36.4" y2="256.1" class="t"/>
<line x1="348.0" y1="256.1" x2="341.4" y2="256.1" class="t"/>
<line x1="29.8" y1="283.9" x2="36.4" y2="283.9" class="t"/>
<line x1="348.0" y1="283.9" x2="341.4" y2="283.9" class="t"/>
<line x1="29.8" y1="311.8" x2="36.4" y2="311.8" class="t"/>
<line x1="348.0" y1="311.8" x2="341.4" y2="311.8" class="t"/>
<line x1="29.8" y1="339.6" x2="36.4" y2="339.6" class="t"/>
<line x1="348.0" y1="339.6" x2="341.4" y2="339.6" class="t"/>
<line x1="29.8" y1="367.5" x2="36.4" y2="367.5" class="t"/>
<line x1="348.0" y1="367.5" x2="341.4" y2="367.5" class="t"/>
<line x1="29.8" y1="395.3" x2="36.4" y2="395.3" class="t"/>
<line x1="348.0" y1="395.3" x2="341.4" y2="395.3" class="t"/>
<line x1="29.8" y1="423.1" x2="36.4" y2="423.1" class="t"/>
<line x1="348.0" y1="423.1" x2="341.4" y2="423.1" class="t"/>
<line x1="29.8" y1="451.0" x2="36.4" y2="451.0" class="t"/>
<line x1="348.0" y1="451.0" x2="341.4" y2="451.0" class="t"/>
<polyline points="32.6,450.6 34.3,451.0 36.0,450.7 37.7,450.4 39.3,451.0 41.0,450.8 42.7,450.7 44.4,450.2 46.1,449.6 47.8,449.8 49.5,450.3 51.2,452.0 52.9,452.0 54.6,450.6 56.3,450.5 57.9,450.9 59.6,451.2 61.3,450.4 63.0,450.5 64.7,450.9 66.4,450.9 68.1,450.2 69.8,449.3 71.5,450.2 73.2,450.2 74.9,450.1 76.5,450.8 78.2,450.8 79.9,450.8 81.6,450.8 83.3,450.8 85.0,450.6 86.7,450.4 88.4,451.6 90.1,452.0 91.8,451.2 93.5,450.9 95.1,450.4 96.8,450.3 98.5,450.5 100.2,450.7 101.9,450.5 103.6,449.3 105.3,449.4 107.0,450.4 108.7,451.5 110.4,451.5 112.1,450.3 113.7,449.7 115.4,449.6 117.1,449.5 118.8,449.2 120.5,448.2 122.2,448.0 123.9,447.6 125.6,446.1 127.3,444.6 129.0,444.0 130.7,443.1 132.3,442.5 134.0,443.9 135.7,444.9 137.4,446.4 139.1,447.9 140.8,448.2 142.5,449.1 144.2,450.4 145.9,450.3 147.6,450.2 149.3,450.7 150.9,449.9 152.6,450.2 154.3,450.4 156.0,449.6 157.7,449.7 159.4,449.9 161.1,450.5 162.8,450.5 164.5,450.8 166.2,451.1 167.9,450.4 169.5,450.0 171.2,450.3 172.9,449.9 174.6,449.1 176.3,449.5 178.0,450.4 179.7,450.8 181.4,450.6 183.1,450.4 184.8,449.6 186.5,449.4 188.1,449.4 189.8,449.6 191.5,449.7 193.2,448.4 194.9,447.3 196.6,446.1 198.3,445.5 200.0,446.4 201.7,447.5 203.4,448.1 205.0,449.2 206.7,450.7 208.4,451.2 210.1,450.7 211.8,450.6 213.5,450.6 215.2,450.6 216.9,450.5 218.6,450.5 220.3,451.4 222.0,451.7 223.6,451.5 225.3,451.0 227.0,450.2 228.7,450.5 230.4,450.9 232.1,450.9 233.8,451.0 235.5,450.9 237.2,451.0 238.9,451.6 240.6,450.7 242.2,450.6 243.9,450.9 245.6,451.0 247.3,450.9 249.0,450.7 250.7,451.1 252.4,450.0 254.1,449.1 255.8,450.2 257.5,450.8 259.2,451.1 260.8,451.2 262.5,450.4 264.2,450.5 265.9,450.7 267.6,450.5 269.3,450.5 271.0,450.8 272.7,450.4 274.4,449.9 276.1,449.6 277.8,450.8 279.4,451.2 281.1,450.2 282.8,450.1 284.5,450.2 286.2,450.4 287.9,450.9 289.6,451.1 291.3,451.0 293.0,450.7 294.7,450.6 296.4,451.2 298.0,451.3 299.7,450.9 301.4,450.2 303.1,450.3 304.8,451.1 306.5,451.4 308.2,450.3 309.9,449.9 311.6,450.8 313.3,450.8 315.0,450.7 316.6,450.7 318.3,451.2 320.0,451.1 321.7,450.8 323.4,450.7 325.1,450.6 326.8,450.7 328.5,450.6 330.2,449.9 331.9,450.6 333.6,450.7 335.2,450.2 336.9,450.4 338.6,450.3 340.3,450.4 342.0,450.5 343.7,450.6 345.4,450.1" fill="none" stroke="#0a9614" stroke-width="1.75" stroke-linejoin="round" stroke-linecap="butt"/>
<polyline points="32.6,449.1 34.3,449.0 36.0,448.7 37.7,448.9 39.3,449.2 41.0,449.2 42.7,448.8 44.4,448.4 46.1,448.7 47.8,448.4 49.5,448.7 51.2,449.4 52.9,449.0 54.6,448.7 56.3,448.9 57.9,449.1 59.6,449.4 61.3,449.6 63.0,448.5 64.7,448.6 66.4,448.9 68.1,448.5 69.8,448.5 71.5,448.6 73.2,448.8 74.9,449.0 76.5,449.1 78.2,448.5 79.9,447.9 81.6,447.9 83.3,448.4 85.0,448.8 86.7,449.2 88.4,448.5 90.1,447.9 91.8,448.1 93.5,447.9 95.1,447.9 96.8,447.8 98.5,447.6 100.2,447.3 101.9,447.3 103.6,447.6 105.3,447.7 107.0,446.9 108.7,445.6 110.4,445.2 112.1,444.6 113.7,444.2 115.4,443.0 117.1,440.8 118.8,437.6 120.5,432.5 122.2,425.1 123.9,414.2 125.6,398.7 127.3,380.9 129.0,365.1 130.7,358.2 132.3,365.1 134.0,380.6 135.7,398.4 137.4,414.0 139.1,424.9 140.8,432.7 142.5,437.8 144.2,441.3 145.9,443.6 147.6,444.3 149.3,445.0 150.9,445.6 152.6,446.1 154.3,446.3 156.0,446.9 157.7,447.5 159.4,447.7 161.1,447.8 162.8,448.0 164.5,447.9 166.2,448.9 167.9,449.0 169.5,447.9 171.2,448.5 172.9,449.1 174.6,448.6 176.3,447.7 178.0,447.6 179.7,447.8 181.4,448.1 183.1,448.3 184.8,448.9 186.5,449.3 188.1,448.8 189.8,448.6 191.5,448.9 193.2,449.0 194.9,448.5 196.6,447.7 198.3,447.9 200.0,448.8 201.7,448.7 203.4,449.0 205.0,449.9 206.7,449.3 208.4,448.3 210.1,448.2 211.8,448.7 213.5,449.0 215.2,448.6 216.9,449.2 218.6,450.5 220.3,449.5 222.0,448.2 223.6,448.3 225.3,449.1 227.0,449.5 228.7,449.6 230.4,449.1 232.1,448.2 233.8,448.3 235.5,449.1 237.2,448.7 238.9,448.1 240.6,447.6 242.2,446.4 243.9,444.5 245.6,443.4 247.3,443.0 249.0,444.3 250.7,445.9 252.4,446.8 254.1,447.6 255.8,447.9 257.5,448.2 259.2,448.1 260.8,447.5 262.5,446.1 264.2,445.0 265.9,443.8 267.6,441.7 269.3,440.7 271.0,444.5 272.7,447.8 274.4,448.8 276.1,448.9 277.8,450.0 279.4,450.0 281.1,449.4 282.8,449.5 284.5,449.4 286.2,449.0 287.9,449.4 289.6,449.9 291.3,448.7 293.0,448.3 294.7,449.1 296.4,449.0 298.0,449.5 299.7,449.5 301.4,449.4 303.1,449.4 304.8,449.0 306.5,449.4 308.2,449.3 309.9,449.1 311.6,448.9 313.3,448.7 315.0,449.3 316.6,449.8 318.3,449.2 320.0,448.6 321.7,449.8 323.4,450.0 325.1,448.9 326.8,449.3 328.5,449.3 330.2,449.0 331.9,449.6 333.6,450.0 335.2,449.6 336.9,449.8 338.6,449.8 340.3,449.3 342.0,449.3 343.7,449.3 345.4,449.5" fill="none" stroke="#ff5508" stroke-width="1.75" stroke-linejoin="round" stroke-linecap="butt"/>
<polyline points="32.6,339.5 34.3,338.5 36.0,338.2 37.7,338.6 39.3,339.3 41.0,339.9 42.7,338.9 44.4,338.7 46.1,339.7 47.8,340.3 49.5,339.9 51.2,338.9 52.9,338.2 54.6,337.8 56.3,338.0 57.9,337.9 59.6,338.0 61.3,337.8 63.0,338.1 64.7,338.9 66.4,339.3 68.1,339.1 69.8,339.2 71.5,339.7 73.2,338.6 74.9,338.0 76.5,338.2 78.2,337.9 79.9,338.5 81.6,338.8 83.3,339.4 85.0,340.3 86.7,339.8 88.4,338.9 90.1,338.6 91.8,338.7 93.5,339.0 95.1,338.7 96.8,338.7 98.5,338.9 100.2,339.1 101.9,339.8 103.6,340.1 105.3,339.4 107.0,338.1 108.7,337.4 110.4,337.8 112.1,337.9 113.7,337.3 115.4,337.7 117.1,337.9 118.8,338.3 120.5,339.4 122.2,338.8 123.9,337.8 125.6,336.8 127.3,336.2 129.0,335.9 130.7,334.6 132.3,333.5 134.0,334.3 135.7,334.6 137.4,334.0 139.1,335.4 140.8,336.7 142.5,337.5 144.2,337.8 145.9,337.7 147.6,338.2 149.3,338.8 150.9,338.0 152.6,338.6 154.3,339.1 156.0,338.9 157.7,338.5 159.4,337.6 161.1,338.0 162.8,338.2 164.5,338.9 166.2,338.5 167.9,338.1 169.5,338.4 171.2,338.5 172.9,339.1 174.6,338.6 176.3,339.5 178.0,339.7 179.7,339.2 181.4,338.6 183.1,338.1 184.8,338.7 186.5,338.7 188.1,338.4 189.8,337.9 191.5,336.4 193.2,336.2 194.9,336.8 196.6,336.8 198.3,337.8 200.0,339.2 201.7,339.3 203.4,339.1 205.0,339.3 206.7,339.3 208.4,339.3 210.1,338.9 211.8,338.5 213.5,338.8 215.2,339.7 216.9,339.9 218.6,339.8 220.3,339.0 222.0,338.4 223.6,339.1 225.3,339.2 227.0,338.5 228.7,337.5 230.4,337.2 232.1,337.8 233.8,339.7 235.5,339.9 237.2,338.4 238.9,338.5 240.6,338.9 242.2,338.8 243.9,338.7 245.6,338.1 247.3,338.0 249.0,338.9 250.7,339.2 252.4,339.4 254.1,338.8 255.8,338.7 257.5,339.0 259.2,338.5 260.8,338.7 262.5,338.1 264.2,337.3 265.9,337.3 267.6,337.6 269.3,338.0 271.0,338.7 272.7,339.0 274.4,338.5 276.1,339.5 277.8,339.8 279.4,338.9 281.1,338.7 282.8,337.6 284.5,337.6 286.2,338.6 287.9,339.1 289.6,339.1 291.3,339.2 293.0,339.6 294.7,339.7 296.4,339.3 298.0,338.9 299.7,338.8 301.4,338.4 303.1,339.1 304.8,339.0 306.5,338.4 308.2,339.0 309.9,338.1 311.6,338.3 313.3,339.1 315.0,338.9 316.6,338.9 318.3,338.1 320.0,338.4 321.7,339.1 323.4,339.4 325.1,339.5 326.8,338.4 328.5,338.7 330.2,339.7 331.9,339.6 333.6,339.5 335.2,338.8 336.9,338.9 338.6,339.0 340.3,340.0 342.0,340.1 343.7,338.4 345.4,338.3" fill="none" stroke="#0a9614" stroke-width="1.75" stroke-linejoin="round" stroke-linecap="butt"/>
<polyline points="32.6,338.6 34.3,338.4 36.0,338.6 37.7,338.8 39.3,338.8 41.0,337.5 42.7,337.8 44.4,338.5 46.1,338.6 47.8,338.8 49.5,339.0 51.2,338.9 52.9,337.3 54.6,337.3 56.3,338.4 57.9,338.4 59.6,338.0 61.3,338.8 63.0,338.9 64.7,338.7 66.4,338.9 68.1,337.8 69.8,337.3 71.5,337.8 73.2,338.3 74.9,338.1 76.5,337.3 78.2,337.2 79.9,337.6 81.6,337.6 83.3,337.6 85.0,338.8 86.7,339.2 88.4,338.0 90.1,337.8 91.8,338.9 93.5,339.1 95.1,338.4 96.8,337.4 98.5,336.7 100.2,337.1 101.9,337.8 103.6,337.2 105.3,336.6 107.0,337.2 108.7,336.7 110.4,335.9 112.1,336.7 113.7,337.5 115.4,337.5 117.1,337.4 118.8,337.6 120.5,337.1 122.2,335.5 123.9,335.0 125.6,334.2 127.3,331.2 129.0,326.6 130.7,322.3 132.3,318.3 134.0,317.7 135.7,320.6 137.4,324.7 139.1,329.9 140.8,332.6 142.5,334.7 144.2,335.8 145.9,335.9 147.6,336.3 149.3,336.9 150.9,337.3 152.6,337.8 154.3,338.7 156.0,338.4 157.7,337.3 159.4,337.5 161.1,338.7 162.8,338.8 164.5,338.4 166.2,338.5 167.9,339.0 169.5,337.5 171.2,337.6 172.9,339.1 174.6,338.7 176.3,338.1 178.0,338.0 179.7,338.5 181.4,337.8 183.1,337.8 184.8,338.5 186.5,338.7 188.1,338.9 189.8,338.0 191.5,337.4 193.2,337.4 194.9,337.2 196.6,337.0 198.3,336.8 200.0,336.4 201.7,336.8 203.4,337.0 205.0,337.1 206.7,337.9 208.4,337.6 210.1,337.0 211.8,338.0 213.5,338.3 215.2,338.0 216.9,337.7 218.6,337.3 220.3,337.7 222.0,338.9 223.6,339.2 225.3,337.7 227.0,337.7 228.7,338.9 230.4,339.0 232.1,338.0 233.8,337.7 235.5,339.1 237.2,338.7 238.9,337.9 240.6,338.0 242.2,337.2 243.9,337.3 245.6,338.3 247.3,338.9 249.0,338.0 250.7,337.2 252.4,337.0 254.1,336.1 255.8,336.4 257.5,337.4 259.2,336.9 260.8,334.7 262.5,333.1 264.2,332.0 265.9,329.8 267.6,328.7 269.3,333.5 271.0,337.0 272.7,338.8 274.4,338.5 276.1,337.3 277.8,338.2 279.4,338.7 281.1,337.6 282.8,337.1 284.5,337.6 286.2,337.8 287.9,338.3 289.6,339.0 291.3,338.8 293.0,338.4 294.7,338.2 296.4,338.5 298.0,339.5 299.7,338.9 301.4,338.0 303.1,339.0 304.8,339.8 306.5,338.5 308.2,337.3 309.9,337.6 311.6,338.8 313.3,338.7 315.0,338.1 316.6,338.1 318.3,338.5 320.0,339.3 321.7,338.5 323.4,337.8 325.1,338.2 326.8,338.1 328.5,337.7 330.2,338.3 331.9,338.9 333.6,338.8 335.2,339.4 336.9,339.0 338.6,338.5 340.3,338.5 342.0,338.2 343.7,338.6 345.4,338.5" fill="none" stroke="#ff5508" stroke-width="1.75" stroke-linejoin="round" stroke-linecap="butt"/>
<rect x="29.8" y="253.7" width="318.2" height="201.2" fill="none" stroke="#000" stroke-width="1.6"/>
<text x="32.6" y="472.5" class="a" text-anchor="middle">140</text>
<text x="80.8" y="472.5" class="a" text-anchor="middle">160</text>
<text x="128.9" y="472.5" class="a" text-anchor="middle">180</text>
<text x="177.1" y="472.5" class="a" text-anchor="middle">200</text>
<text x="225.3" y="472.5" class="a" text-anchor="middle">220</text>
<text x="273.5" y="472.5" class="a" text-anchor="middle">240</text>
<text x="321.6" y="472.5" class="a" text-anchor="middle">260</text>
<text x="127.9" y="487.9" class="a" style="word-spacing:0.5px">Raman Shift</text>
<text x="212.7" y="487.9" class="a">(cm</text>
<text x="236.8" y="477.7" class="s">-1</text>
<text x="247.1" y="487.9" class="a">)</text>
<text transform="translate(14.6,355.1) rotate(-90) scale(1,1.06)" class="a" style="font-size:14.8px" text-anchor="middle">Signal (arb. units)</text>
<text x="1.9" y="267.3" class="l11">(b)</text>
<line x1="46.5" y1="266.1" x2="74.1" y2="266.1" stroke="#0a9614" stroke-width="2.1"/>
<line x1="46.5" y1="283.3" x2="74.1" y2="283.3" stroke="#ff5508" stroke-width="2.1"/>
<text y="271.0" class="sg"><tspan x="80.5">σ</tspan><tspan class="ss" dy="3.6" x="88.8">−</tspan><tspan dy="-3.6" x="95.2">σ</tspan><tspan class="ss" dy="3.6" x="104.1">−</tspan></text>
<text y="288.0" class="sg"><tspan x="80.5">σ</tspan><tspan class="ss" dy="3.6" x="88.8">−</tspan><tspan dy="-3.6" x="95.2">σ</tspan><tspan class="ss" dy="3.6" x="104.1">+</tspan></text>
<text x="126.6" y="304.2" class="i">E<tspan class="si" dy="3.6" dx="-0.1">g</tspan></text>
<text x="189.3" y="305.1" class="i">A<tspan class="si" dy="3.8" dx="1.3">1g</tspan></text>
<text x="43.4" y="331.1" class="l12">1L</text>
<text x="44.7" y="442.1" class="l12">4L</text>
</svg>
</body></html>
